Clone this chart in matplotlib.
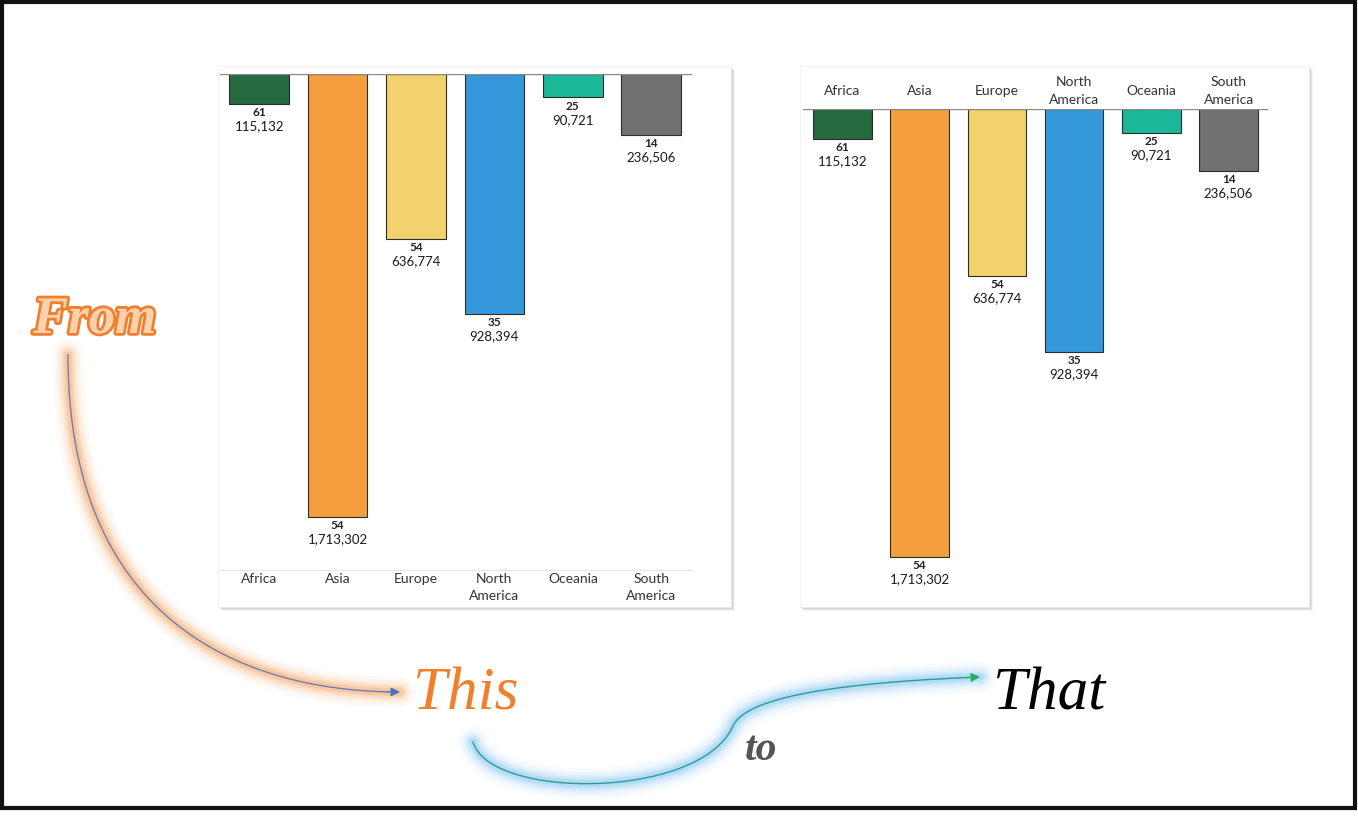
import numpy as np
import matplotlib
matplotlib.use("Agg")
import matplotlib.pyplot as plt
from matplotlib.patches import Rectangle
import matplotlib.patheffects as pe

# ---------------- data ----------------
continents = ["Africa", "Asia", "Europe", "North America", "Oceania", "South America"]
labels_two_line = ["Africa", "Asia", "Europe", "North\nAmerica", "Oceania", "South\nAmerica"]
values = [115132, 1713302, 636774, 928394, 90721, 236506]
counts = [61, 54, 54, 35, 25, 14]
colors = ["#256b3f", "#f59e3d", "#f2d26c", "#3498db", "#1bb89a", "#717171"]

W, H = 1358, 832
fig = plt.figure(figsize=(W / 100, H / 100), dpi=100)
fig.patch.set_facecolor("white")

bg = fig.add_axes([0, 0, 1, 1])
bg.set_xlim(0, W)
bg.set_ylim(H, 0)
bg.axis("off")

def frac(x0, y0, x1, y1):
    return [x0 / W, 1 - y1 / H, (x1 - x0) / W, (y1 - y0) / H]

# outer border
bg.add_patch(Rectangle((1.5, 1.5), 1353, 806.5, fill=False, edgecolor="#111111", lw=3, zorder=1))

# cards with shadows
def card(x0, y0, x1, y1):
    for k, a in zip([4, 3, 2, 1], [0.08, 0.12, 0.18, 0.25]):
        bg.add_patch(Rectangle((x0 + k, y0 + k), x1 - x0, y1 - y0, facecolor="#808080",
                               edgecolor="none", alpha=a, zorder=2))
    bg.add_patch(Rectangle((x0, y0), x1 - x0, y1 - y0, facecolor="white",
                           edgecolor="#f0f0f0", lw=0.5, zorder=3))

card(218, 66, 731, 607)
card(800, 66, 1309, 607)

LS = 1.55

def value_labels(ax):
    for i, (v, c) in enumerate(zip(values, counts)):
        ax.annotate(f"{c}", xy=(i, v), xytext=(0, -6.2), textcoords="offset points",
                    ha="center", va="center", fontsize=8.5, fontweight="bold",
                    fontfamily="Lato", color="#222222")
        ax.annotate(f"{v:,}", xy=(i, v), xytext=(0, -16.2), textcoords="offset points",
                    ha="center", va="center", fontsize=9.5, fontfamily="Lato", color="#1a1a1a")

# ---------------- left chart ----------------
axL = fig.add_axes(frac(220, 74, 692, 570))
axL.patch.set_alpha(0)
x = np.arange(len(continents))
axL.bar(x, values, width=0.76, color=colors, edgecolor="#2b2b2b", linewidth=0.8, zorder=3)
axL.set_xlim(-0.5, 5.52)
axL.set_ylim(1713302 * 496 / 443, 0)
axL.axhline(0, color="#8a8a8a", lw=1, zorder=4)
for s in axL.spines.values():
    s.set_visible(False)
axL.spines["bottom"].set_visible(True)
axL.spines["bottom"].set_color("#e6e6e6")
axL.set_yticks([])
axL.set_xticks(x)
axL.set_xticklabels(labels_two_line, fontsize=10, fontfamily="Lato", color="#333333", linespacing=LS)
axL.tick_params(axis="x", length=0, pad=2)
value_labels(axL)

# ---------------- right chart ----------------
axR = fig.add_axes(frac(803, 109, 1268, 600))
axR.patch.set_alpha(0)
axR.bar(x, values, width=0.76, color=colors, edgecolor="#2b2b2b", linewidth=0.8, zorder=3)
axR.set_xlim(-0.51, 5.51)
axR.set_ylim(1713302 * 491 / 448, 0)
axR.axhline(0, color="#8a8a8a", lw=1, zorder=4)
for s in axR.spines.values():
    s.set_visible(False)
axR.set_xticks([])
axR.set_yticks([])
for i, lab in enumerate(labels_two_line):
    axR.annotate(lab, xy=(i, 0), xytext=(0, 13), textcoords="offset points",
                 ha="center", va="center", fontsize=10, fontfamily="Lato",
                 color="#333333", linespacing=LS, multialignment="center")
value_labels(axR)

# ---------------- connectors ----------------
def bezier(p0, p1, p2, p3, n=120):
    t = np.linspace(0, 1, n)[:, None]
    p0, p1, p2, p3 = map(np.array, (p0, p1, p2, p3))
    return (1 - t) ** 3 * p0 + 3 * (1 - t) ** 2 * t * p1 + 3 * (1 - t) * t ** 2 * p2 + t ** 3 * p3

def glow_line(pts, glow_color, line_color, head_color):
    for lw, a in zip([22, 17, 13, 10, 7, 5], [0.06, 0.08, 0.10, 0.13, 0.17, 0.22]):
        bg.plot(pts[:, 0], pts[:, 1], color=glow_color, lw=lw, alpha=a,
                solid_capstyle="round", zorder=4)
    bg.plot(pts[:-3, 0], pts[:-3, 1], color=line_color, lw=1.0, zorder=5)
    bg.annotate("", xy=tuple(pts[-1]), xytext=tuple(pts[-4]),
                arrowprops=dict(arrowstyle="-|>", color=head_color, lw=1.0,
                                mutation_scale=13, shrinkA=0, shrinkB=0), zorder=6)

c1 = bezier((68, 355), (68, 610), (230, 692), (400, 692))
glow_line(c1, "#f7a05a", "#6a80b5", "#4472c4")

c2a = bezier((473, 742), (490, 800), (700, 800), (733, 726))
c2b = bezier((733, 726), (743, 704), (800, 684), (980, 677))
c2 = np.vstack([c2a, c2b[1:]])
glow_line(c2, "#7cc4f4", "#2a9d8f", "#1fae5e")

# ---------------- words ----------------
bg.text(33, 333, "From", fontsize=38, fontfamily="Liberation Serif", fontstyle="italic",
        fontweight="bold", color="#fcd2ae", ha="left", va="baseline", zorder=7,
        path_effects=[pe.Stroke(linewidth=4, foreground="#f07f2e"), pe.Normal()])
bg.text(413, 710, "This", fontsize=44, fontfamily="Liberation Serif", fontstyle="italic",
        color="#f07f2e", ha="left", va="baseline", zorder=7)
bg.text(745, 760, "to", fontsize=30, fontfamily="Liberation Serif", fontstyle="italic",
        fontweight="bold", color="#555555", ha="left", va="baseline", zorder=7)
bg.text(993, 710, "That", fontsize=44, fontfamily="Liberation Serif", fontstyle="italic",
        color="#000000", ha="left", va="baseline", zorder=7)

fig.savefig("out.png", dpi=100, facecolor="white")
